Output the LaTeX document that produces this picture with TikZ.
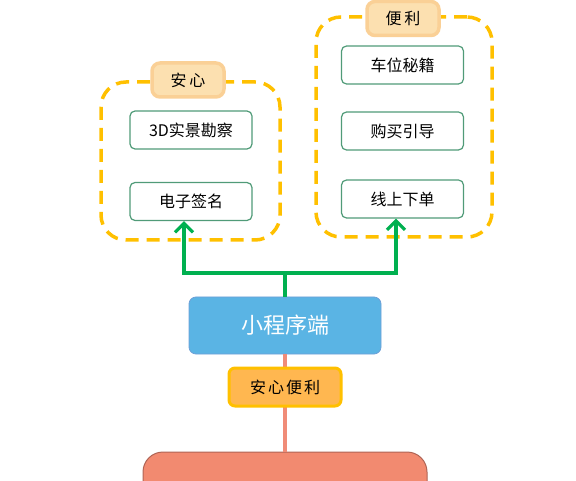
\documentclass[tikz,border=0pt]{standalone}
\usepackage{fontspec}
\setmainfont{Noto Sans CJK SC}
\usetikzlibrary{arrows.meta,positioning,calc}
\definecolor{dashorange}{RGB}{255,192,0}
\definecolor{tagfill}{RGB}{252,224,176}
\definecolor{tagline}{RGB}{250,208,150}
\definecolor{itemgreen}{RGB}{80,155,120}
\definecolor{flowgreen}{RGB}{0,176,80}
\definecolor{appblue}{RGB}{90,180,228}
\definecolor{appline}{RGB}{110,160,215}
\definecolor{linksalmon}{RGB}{240,140,120}
\definecolor{benefitfill}{RGB}{255,183,80}
\definecolor{basefill}{RGB}{242,138,112}
\definecolor{baseline}{RGB}{175,100,85}
\begin{document}
\begin{tikzpicture}[x=1pt,y=-1pt,
  every node/.style={font=\fontsize{16}{19}\selectfont,align=center,inner sep=0pt},
  group/.style={draw=dashorange,line width=3.5pt,dash pattern=on 13pt off 8pt,rounded corners=25pt},
  tag/.style={draw=tagline,fill=tagfill,line width=3.5pt,rounded corners=8pt,minimum width=72pt,minimum height=34pt},
  item/.style={draw=itemgreen,fill=white,line width=1.2pt,rounded corners=5pt,minimum width=122pt,minimum height=38pt},
  flow/.style={draw=flowgreen,line width=3.2pt,-{Straight Barb[length=9pt,width=18pt,line width=3.2pt]}},
  link/.style={draw=linksalmon,line width=4pt}]
\useasboundingbox (0,0) rectangle (576,481);
\clip (0,0) rectangle (576,481);
% groups
\node[group,minimum width=179pt,minimum height=158pt] (safe) at (190.5,161) {};
\node[group,minimum width=176pt,minimum height=220pt] (easy) at (404,127) {};
\node[tag] (safetag) at (188,80) {安\hspace{3pt}心};
\node[tag] (easytag) at (403,18.5) {便\hspace{3pt}利};
% items
\node[item] (scan) at (191,130) {3D实景勘察};
\node[item] (sign) at (191,201.5) {电子签名};
\node[item] (park) at (402.5,65) {车位秘籍};
\node[item] (guide) at (402.5,131) {购买引导};
\node[item] (order) at (402.5,199) {线上下单};
% base chain
\node[draw=baseline,fill=basefill,line width=1pt,rounded corners=20pt,minimum width=284pt,minimum height=80pt] (base) at (285,492) {};
\node[draw=appline,fill=appblue,line width=0.8pt,rounded corners=7pt,minimum width=192pt,minimum height=57pt,text=white,font=\fontsize{22}{26}\selectfont] (app) at (285,325.5) {小程序端};
\draw[link] (app.south) -- (base.north);
\node[draw=dashorange,fill=benefitfill,line width=3pt,rounded corners=6pt,minimum width=112pt,minimum height=38pt] (benefit) at (285,387) {安\hspace{2pt}心\hspace{2pt}便\hspace{2pt}利};
% arrows
\coordinate (jn) at (285,273);
\draw[flow,-] (app.north) -- (jn);
\draw[flow] (jn) -| ([xshift=-7pt]sign.south);
\draw[flow] (jn) -| ([xshift=-6.5pt]order.south);
\end{tikzpicture}
\end{document}
